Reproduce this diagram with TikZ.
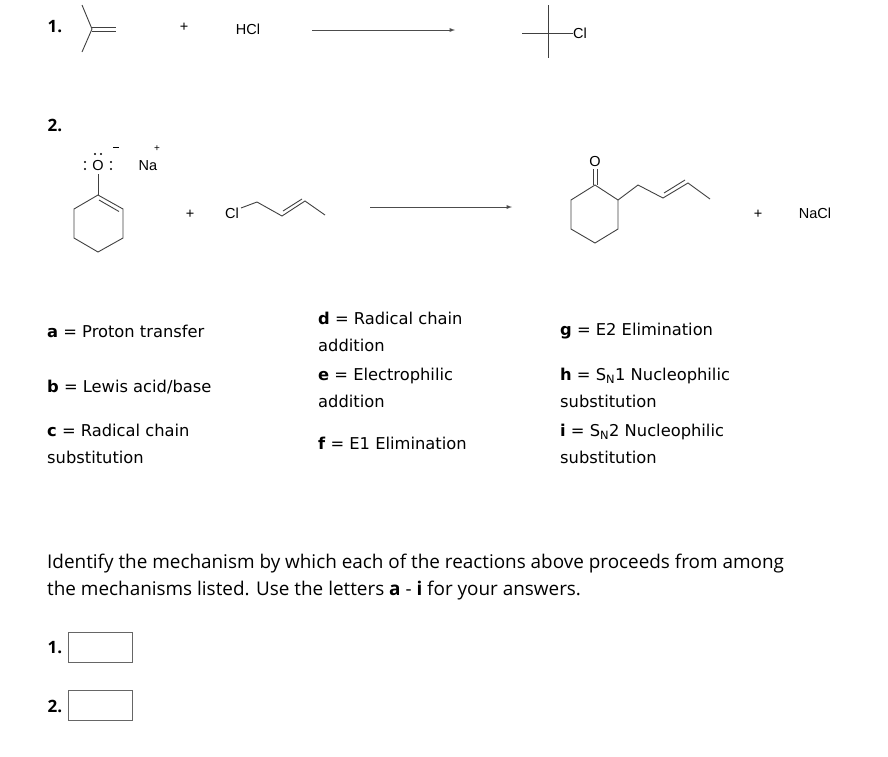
\documentclass[tikz,border=0pt]{standalone}
\usepackage{fontspec}
\setmainfont{Open Sans}
\newfontfamily\chem{Liberation Sans}
\newfontfamily\listfont{DejaVu Sans}
\begin{document}
\begin{tikzpicture}[x=1pt,y=-1pt,
  bond/.style={line width=0.9pt,black!75},
  chm/.style={font=\chem\fontsize{14.5}{17}\selectfont,inner sep=0pt},
  num/.style={font=\fontsize{17}{20}\selectfont\bfseries,inner sep=0pt},
  txt/.style={font=\listfont\fontsize{16.3}{27}\selectfont,inner sep=0pt,anchor=west,align=left},
  ansbox/.style={draw=black!60,line width=0.8pt,minimum width=64pt,minimum height=30pt,inner sep=0pt,anchor=north west},
  lp/.style={circle,fill=black,inner sep=0pt,minimum size=2.2pt},
  rarrow/.style={line width=0.9pt,black!70,-latex}]
\useasboundingbox (0,0) rectangle (888,756);
% Reaction 1
\node[num] (n1) at (55,27) {1.};
\draw[bond] (82,5) -- (92,29) -- (82,52);
\draw[bond] (92,27) -- (116,27) (92,31) -- (116,31);
\node[chm] (p1) at (184,27) {+};
\node[chm] (hcl) at (248,29) {HCl};
\coordinate (a1s) at (312,30); \coordinate (a1e) at (455,30);
\draw[rarrow] (a1s) -- (a1e);
\draw[bond] (522,33) -- (573,33) (548,5) -- (548,58);
\node[chm,anchor=west] (cl1) at (573,33) {Cl};
% Reaction 2
\node[num] (n2) at (55,125) {2.};
\node[chm] (o1) at (98,166) {O};
\foreach \p in {(85,162),(85,169),(111,162),(111,169),(95,154),(101,154)} \node[lp] at \p {};
\draw[line width=0.9pt] (113,147) -- (119,147);
\node[chm] (na) at (148,166) {Na};
\node[chm,font=\chem\fontsize{10}{12}\selectfont] (nap) at (157,149) {+};
\draw[bond] (98,174) -- (98,195);
\draw[bond] (98,195) -- (123,209) -- (123,238) -- (98,252) -- (74,238) -- (74,209) -- cycle;
\draw[bond] (99,200) -- (119,211.5);
\node[chm] (p2) at (190,214) {+};
\node[chm] (cl2) at (232,213) {Cl};
\draw[bond] (241,208) -- (257,202) -- (282,216) -- (305,201) -- (325,215);
\draw[bond] (283,211) -- (302,199);
\coordinate (a2s) at (370,207); \coordinate (a2e) at (512,207);
\draw[rarrow] (a2s) -- (a2e);
\node[chm] (o2) at (595,162) {O};
\draw[bond] (593,169) -- (593,185) (597,169) -- (597,185);
\draw[bond] (595,185) -- (618,200) -- (618,229) -- (595,243) -- (571,229) -- (571,200) -- cycle;
\draw[bond] (618,200) -- (638,185) -- (663,198) -- (688,183) -- (710,199);
\draw[bond] (664,193) -- (685,180);
\node[chm] (p3) at (758,214) {+};
\node[chm] (nacl) at (815,213) {NaCl};
% Mechanism list
\node[txt] (ta) at (47,331) {\textbf{a} = Proton transfer};
\node[txt] (tb) at (47,387) {\textbf{b} = Lewis acid/base};
\node[txt] (tc) at (47,444) {\textbf{c} = Radical chain\\substitution};
\node[txt] (td) at (318,332) {\textbf{d} = Radical chain\\addition};
\node[txt] (te) at (318,388) {\textbf{e} = Electrophilic\\addition};
\node[txt] (tf) at (318,443) {\textbf{f} = E1 Elimination};
\node[txt] (tg) at (560,331) {\textbf{g} = E2 Elimination};
\node[txt] (th) at (560,388) {\textbf{h} = S\textsubscript{N}1 Nucleophilic\\substitution};
\node[txt] (ti) at (560,444) {\textbf{i} = S\textsubscript{N}2 Nucleophilic\\substitution};
\node[txt,font=\fontsize{18.9}{27}\selectfont] (q) at (47,577) {Identify the mechanism by which each of the reactions above proceeds from among\\the mechanisms listed. Use the letters \textbf{a} - \textbf{i} for your answers.};
% answers
\node[num] (an1) at (55,648) {1.};
\node[ansbox] (b1) at (68,632) {};
\node[num] (an2) at (55,706) {2.};
\node[ansbox] (b2) at (68,690) {};
\end{tikzpicture}
\end{document}
